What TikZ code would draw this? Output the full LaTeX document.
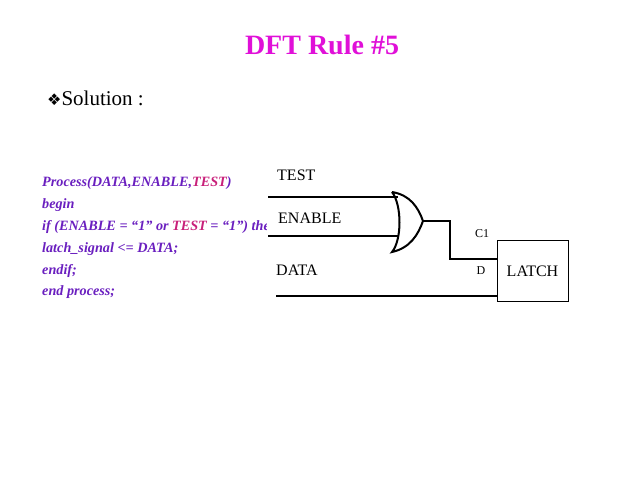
\documentclass[tikz,border=0pt]{standalone}
\usepackage{fontspec}
\setmainfont{Liberation Serif}
\newfontfamily\symf{DejaVu Sans}
\begin{document}
\begin{tikzpicture}[x=1pt,y=-1pt,
  code/.style={anchor=west,inner sep=0,font=\fontsize{14.2}{15}\selectfont\bfseries\itshape,text=codec},
  lbl/.style={anchor=west,inner sep=0,font=\fontsize{16}{17}\selectfont},
  sml/.style={anchor=center,inner sep=0,font=\fontsize{12}{13}\selectfont},
  wire/.style={line width=1.1pt}]
\definecolor{codec}{HTML}{6A1FBF}
\definecolor{mag}{HTML}{E010D8}
\definecolor{tmag}{HTML}{C8207A}
\useasboundingbox (0,0) rectangle (638,478);
\node[font=\fontsize{28}{30}\selectfont\bfseries,text=mag] (title) at (322,45) {DFT Rule \#5};
\node[anchor=west,inner sep=0,font=\fontsize{21}{23}\selectfont] (sol) at (47,98) {{\symf\fontsize{16}{18}\selectfont ❖}Solution :};
\begin{scope}
\clip (30,170) rectangle (266,300);
\node[code] (c1) at (42,183) {Process(DATA,ENABLE,\textcolor{tmag}{TEST})};
\node[code] (c2) at (42,205) {begin};
\node[code] (c3) at (42,227) {if (ENABLE = “1” or \textcolor{tmag}{TEST} = “1”) then};
\node[code] (c4) at (42,249) {latch\_signal <= DATA;};
\node[code] (c5) at (42,271) {endif;};
\node[code] (c6) at (42,292) {end process;};
\end{scope}
\node[lbl] (lt) at (277,175) {TEST};
\node[lbl] (le) at (278,218) {ENABLE};
\node[lbl] (ld) at (276,270) {DATA};
\node[draw,line width=1pt,minimum width=71,minimum height=61,inner sep=0,font=\fontsize{16}{17}\selectfont] (latch) at (532.5,271.5) {LATCH};
\node[sml] (lc1) at (482,234) {C1};
\node[sml] (lD) at (481,271) {D};
\coordinate (gt) at (423,221);
\draw[wire,line width=2pt] (392,192) .. controls (402,205) and (402,240) .. (392,252)
  .. controls (410,248) and (418,235) .. (gt)
  .. controls (418,207) and (410,195) .. (392,192);
\coordinate (ta) at (268,197);
\coordinate (tb) at (398,197);
\coordinate (ea) at (268,236);
\coordinate (eb) at (398,236);
\coordinate (da) at (276,296);
\draw[wire] (ta) -- (tb);
\draw[wire] (ea) -- (eb);
\draw[wire] (gt) -- (450,221) -- (450,259) -- (latch.west |- 0,259);
\draw[wire] (da) -- (latch.west |- 0,296);
\end{tikzpicture}
\end{document}
